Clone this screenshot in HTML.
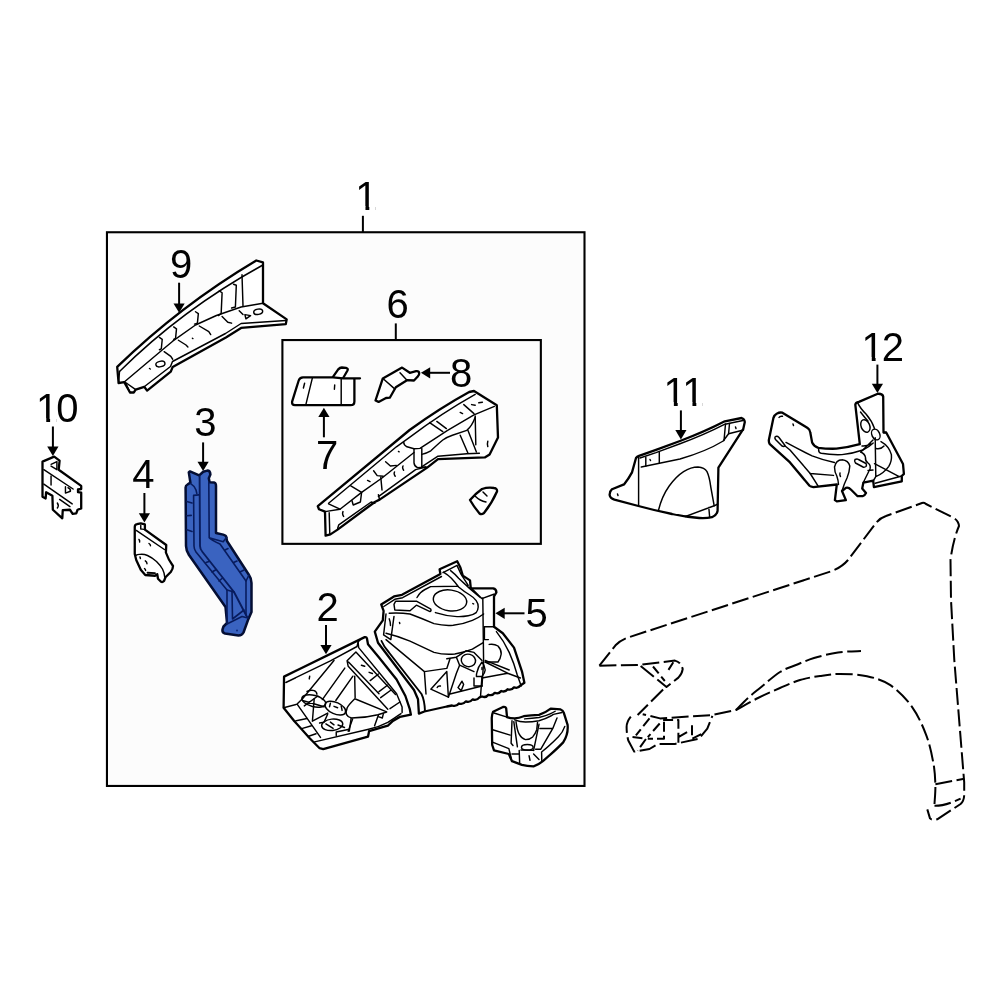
<!DOCTYPE html>
<html lang="en">
<head>
<meta charset="utf-8">
<title>Parts diagram</title>
<style>
html,body{margin:0;padding:0;background:#fff;}
body{width:1000px;height:1000px;overflow:hidden;}
svg{display:block;}
svg text{font-family:"Liberation Sans",sans-serif;font-size:40px;fill:#000;}
.o{fill:#fff;stroke:#000;stroke-width:2.3;stroke-linejoin:round;stroke-linecap:round;}
.n{fill:none;stroke:#000;stroke-width:2.3;stroke-linejoin:round;stroke-linecap:round;}
.i{fill:none;stroke:#000;stroke-width:1.45;stroke-linejoin:round;stroke-linecap:round;}
.b{fill:none;stroke:#000;stroke-width:2.1;}
.a{fill:none;stroke:#000;stroke-width:2;}
.h{fill:#000;stroke:none;}
.d{fill:none;stroke:#000;stroke-width:2;stroke-dasharray:17 4.5;stroke-linejoin:round;}
.bo{fill:#3a63c0;stroke:#040e33;stroke-width:2.5;stroke-linejoin:round;stroke-linecap:round;}
.bi{fill:none;stroke:#081c5e;stroke-width:1.6;stroke-linejoin:round;stroke-linecap:round;}
</style>
</head>
<body>
<svg width="1000" height="1000" viewBox="0 0 1000 1000">
<rect x="0" y="0" width="1000" height="1000" fill="#fff"/>

<!-- BOXES -->
<g id="boxes">
<rect class="b" x="106.95" y="232.25" width="477.55" height="553.7" style="fill:#fcfcfc"/>
<rect class="b" x="282.4" y="340.05" width="258.45" height="203.8"/>
<line class="a" x1="362.9" y1="215.8" x2="362.9" y2="232"/>
<line class="a" x1="395.8" y1="323.4" x2="395.8" y2="340"/>
</g>

<!-- LABELS -->
<g id="labels" text-anchor="middle" style="opacity:0.999">
<defs><clipPath id="k1"><path clip-rule="evenodd" d="M0,0 H1000 V1000 H0 Z M357.21,206.30 H365.46 V211.50 H357.21 Z M369.31,206.30 H375.71 V211.50 H369.31 Z"/></clipPath><clipPath id="k10"><path clip-rule="evenodd" d="M0,0 H1000 V1000 H0 Z M38.01,418.30 H46.26 V423.50 H38.01 Z M50.11,418.30 H56.51 V423.50 H50.11 Z"/></clipPath><clipPath id="k11"><path clip-rule="evenodd" d="M0,0 H1000 V1000 H0 Z M665.61,402.30 H673.86 V407.50 H665.61 Z M677.71,402.30 H684.11 V407.50 H677.71 Z M684.21,402.30 H692.46 V407.50 H684.21 Z M696.31,402.30 H702.71 V407.50 H696.31 Z"/></clipPath><clipPath id="k12"><path clip-rule="evenodd" d="M0,0 H1000 V1000 H0 Z M863.51,357.30 H871.76 V362.50 H863.51 Z M875.61,357.30 H882.01 V362.50 H875.61 Z"/></clipPath></defs>
<text x="355.21" y="210" text-anchor="start" clip-path="url(#k1)">1</text>
<text x="327.650" y="621">2</text>
<text x="205.250" y="436">3</text>
<text x="143.400" y="488">4</text>
<text x="536.550" y="627">5</text>
<text x="397.700" y="318">6</text>
<text x="327" y="469">7</text>
<text x="461.200" y="387">8</text>
<text x="181" y="278">9</text>
<text x="36.01 56.23" y="422" text-anchor="start" clip-path="url(#k10)">10</text>
<text x="663.61 682.21" y="406" text-anchor="start" clip-path="url(#k11)">11</text>
<text x="861.51 881.63" y="361" text-anchor="start" clip-path="url(#k12)">12</text>
</g>

<!-- ARROWS -->
<g id="arrows">
<line class="a" x1="326.0" y1="625.1" x2="326.0" y2="646.0"/><polygon class="h" points="320.4,645.0 331.6,645.0 326.0,654.3"/>
<line class="a" x1="203.1" y1="442.4" x2="203.1" y2="462.7"/><polygon class="h" points="197.5,461.7 208.7,461.7 203.1,471.0"/>
<line class="a" x1="144.4" y1="493.0" x2="144.4" y2="514.3"/><polygon class="h" points="138.8,513.3 150.0,513.3 144.4,522.6"/>
<line class="a" x1="524.5" y1="613.3" x2="503.7" y2="613.3"/><polygon class="h" points="504.7,607.7 504.7,618.9 495.4,613.3"/>
<line class="a" x1="323.9" y1="437.3" x2="323.9" y2="416.1"/><polygon class="h" points="318.3,417.1 329.5,417.1 323.9,407.8"/>
<line class="a" x1="450.0" y1="372.8" x2="429.2" y2="372.8"/><polygon class="h" points="430.2,367.2 430.2,378.4 420.9,372.8"/>
<line class="a" x1="179.1" y1="282.7" x2="179.1" y2="304.4"/><polygon class="h" points="173.5,303.4 184.7,303.4 179.1,312.7"/>
<line class="a" x1="52.9" y1="426.5" x2="52.9" y2="447.6"/><polygon class="h" points="47.2,446.6 58.5,446.6 52.9,455.9"/>
<line class="a" x1="680.9" y1="410.4" x2="680.9" y2="431.1"/><polygon class="h" points="675.3,430.1 686.5,430.1 680.9,439.4"/>
<line class="a" x1="877.4" y1="364.6" x2="877.4" y2="384.8"/><polygon class="h" points="871.8,383.8 883.0,383.8 877.4,393.1"/>
</g>

<g id="part9">
<path class="o" d="M117.200,366.900 Q180.500,305.500 256.300,260.500 L263,262.400 L263,303.200 L286.700,319.400 L285.800,324.100 L241.100,327.900 L225.900,337.400 L172.700,366.900 L170.800,371.600 L147.100,390.600 L144.200,386.800 L135.700,389.700 L133.750,392.500 L130,392.500 L124.250,382.100 L118.600,383 Z"/>
<path class="i" d="M119.500,371.500 Q182,309.500 262,265.500"/>
<path class="i" d="M124.250,382 L161.300,350.700 L172.700,341.200 L195.500,325 L216.400,315.500 L241.100,307 L263,303.200"/>
<path class="i" d="M242,274.700 L243,306"/>
<path class="i" d="M233.500,284.200 L236.300,285.200 L235.400,307 L231.600,308"/>
<path class="i" d="M219.250,290.900 L222.100,292.750 L221.150,313.650 L218.300,315.550"/>
<path class="i" d="M195.500,311.750 L198.350,313.650 L197.400,323.150 L194.550,324.100"/>
<path class="i" d="M173.650,326.950 L176.500,328.850 L175.550,338.350 L173.650,339.300"/>
<path class="i" d="M159.400,337.400 L162.250,339.300 L161.300,348.800 L159.400,349.750"/>
<path class="i" d="M144.200,386.800 L170.500,366.500 L172.500,361.500 L225.500,333.500 L241.100,323.500 L286,320.500"/>
<path class="i" d="M239.200,310.800 L243,314.600 M222.100,316.500 L227.800,322.200 L231.600,323.150 M199.300,326 L208.800,331.700 L210.700,334.550 M178.400,340.250 L186,345 L187.900,346.900 M164.150,351.650 L170.800,356.400 L172.700,359.250"/>
<ellipse class="i" cx="160.400" cy="364" rx="4.600" ry="2.700" transform="rotate(-12 160.400 364)"/>
<ellipse class="i" cx="258.200" cy="311.750" rx="4.500" ry="2.700" transform="rotate(-10 258.200 311.750)"/>
<path class="i" d="M244.900,314.600 L250.600,315.600 L245.900,318.800 Z"/>
<path class="i" d="M149.500,368.500 L150.300,369 M192.400,338.200 L192.900,338.600"/>
<path class="i" d="M118.600,383 L119.500,371.500 M124.250,382.100 L127,383.500 L135.700,389.700 M130,392.500 L126.500,385"/>
</g>
<g id="part7">
<path class="o" d="M333,376.800 L338.200,369.400 Q340,367.500 341.800,367.500 L346,367.800 Q348.500,368.500 347.500,370.500 L343,378.300"/>
<path class="o" d="M360,378.300 L343,378.300 L333,377.300 L303,377.300 Q299.700,377.500 298.700,380.500 L292.200,401.300 Q291.500,405.200 295,405.200 L350.500,405.200 Q354.400,405.200 354.400,401.500 L354.400,379"/>
<path class="i" d="M341.200,378.500 L341.200,404.800 M312.400,377.800 L305.800,404.800 M304.600,383.200 L303.400,388 M334.700,385 L334.400,389.200"/>
</g>
<g id="part8">
<path class="o" d="M382.800,378.400 L402.100,367.600 L409.800,372.800 L416.100,371.200 Q418.800,370.800 419.200,373 Q419.400,375 417.500,376.800 L414,380.500 L407,380.200 L395.800,387.200 L389.800,397.700 L386,398 L378.600,401.900 L375.500,400.500 Z"/>
<path class="i" d="M383.200,378.800 L394.400,388.600 M400,372.800 L406.300,379.500"/>
</g>
<g id="rail6">
<path class="o" d="M317.800,506.200 L409.600,430 Q440,408 469.200,392 L474,391 L496.800,405.200 L498,437.600 L489.600,454.400 L484.800,457.400 L438,459.200 L427.200,467.600 L379.600,499.600 L374.800,502 L337.600,529.600 L330.400,534.400 L325.600,535.600 L325,511.600 L319,509.200 Z"/>
<path class="i" d="M328.600,503.200 L396.400,446.800 L409.200,437.600 Q442,413 475.200,394.400"/>
<path class="i" d="M328.600,503.800 L340,509.200 L325,511.600 M329.200,512.800 L329.800,534.400"/>
<path class="i" d="M340,509.200 L361.600,492.400 L382,478 L414,452.500"/>
<path class="i" d="M350.800,485.800 L361.600,492.400 L360.400,502 L353.200,505 L352,500.800"/>
<path class="i" d="M337.600,528.400 L338.800,524.800 L371.200,502 L374.800,503.200 M378.400,494.800 L379.600,499.600 M378.400,496.600 L415.600,469.600 L426,467"/>
<path class="i" d="M373.600,470.800 L377.200,475.600 L383.200,476.200 M380.800,477.400 L382,490 M385.600,461.800 L390.400,466 L396.400,465.400"/>
<path class="i" d="M367.600,480.400 L370,481.600 M398.500,451.400 L399.100,451.800 M394.500,472 Q393.500,474 395.200,476.200 M403,466 Q402,468 403.600,470.200 M343,511.600 Q342,514 343.600,516.400"/>
<path class="i" d="M403.800,442.400 Q403.500,445 407,446.800 L414,448.800 L420,448.400 L447.600,430.400 L474,414.800 L494.400,406.400"/>
<path class="i" d="M414,449 L414,462.800 Q414.500,466.500 417.600,467.600 L426,467 M421.800,448.400 L421.800,467"/>
<path class="i" d="M429.600,422.600 L442.800,431.600 M436.800,421.400 L446.400,428.600"/>
<path class="i" d="M463.800,404.600 L474,413.600 M460.200,412.400 L462.600,413.600 M471.600,404.600 L475.200,405.200 M478.800,402.800 L482.400,402.200"/>
<path class="i" d="M421.800,454.400 Q426,453.500 430.800,450.800 Q438,444 442.800,440 Q447,437 452.400,435.200 L466.800,430.400 Q472,426 475.200,417.200"/>
<path class="i" d="M422.400,466.400 L438,456.200 L466.800,453.800 L479.400,453.200"/>
<path class="i" d="M475.200,416 L475.800,444.800 M468,430.400 L476.400,452 M460.200,435.200 L468,453.200"/>
<path class="i" d="M487.800,441.200 Q487,444 487.800,446.600"/>
</g>
<g id="bump6">
<path class="o" d="M470,500 Q475,494 482,489 Q488,487 494,488 Q497.5,488.5 497,491.500 Q492,503 484,513 Q481.500,515 479.500,513.500 Q474,507 470,500 Z"/>
<path class="i" d="M475,496 Q480,501 486,502 M483,492 L487,496"/>
</g>
<g id="part3">
<path class="bo" d="M188.800,472.200 L190,471.400 L199.200,475.400 L203.200,471.800 L207.200,470.600 Q210.300,470.600 210.400,474.600 L208.800,478.200 L209.600,482.200 L214.400,482.600 Q216,483 216,486 L216,533 L223.200,534.600 Q226.400,535.500 226.400,537.500 L227,541 L249,575 Q251.500,578.500 251.500,583 L251.500,612 L248,620 L243.500,632.500 Q242,635.500 238.500,635.500 L225,633.500 Q222,632.500 222.500,629.500 L223.500,626.500 L227,623 L225.500,607 L189,555 Q186,550 186,546 L185.600,487.500 Q185.600,485.500 187.500,484.500 L190.400,482.600 Z"/>
<path class="bi" style="stroke-width:1.9" d="M199.600,476.200 L200,546 Q200,549 202.500,552 L234,592 L246,615"/>
<path class="bi" d="M198.800,494.900 L193.600,495.400 L194,546 Q194,549 196,552 L227,590 L234,592"/>
<path class="bi" d="M190.400,483.400 Q194.500,486 196,490 L196.800,493.400"/>
<path class="bi" d="M208.800,482.600 L209.200,537.800 L223.200,541.800 L226.400,537.500 M209.200,537.800 Q211,540 220,544 L246,581 L249,575"/>
<path class="bi" d="M246,581 L246,615 L248,618 M227,590 L227,624 L242,616.500 L248,618 M232,591 L232.500,619 L244,610"/>
<path class="bi" d="M186.800,501.400 L192,503 M186.800,515.800 L191.200,515.400 M186.800,529.800 L192,531.400"/>
<path class="bi" d="M206,562.500 L209,561.500 M212,572 L215.500,570 M219,581 L222,578.500 M225,550 L228,548.500 M233.500,562.500 L237,561 M240,572 L244,570"/>
<circle cx="237" cy="630.500" r="0.900" fill="#0a2270"/>
</g>
<g id="part4">
<path class="o" d="M134.750,527 Q134.750,524.500 137,524.200 L140.750,523.300 L144.900,524.400 L144.900,529.600 L166.250,545 L165.900,552.500 Q168,559 173,566 Q173,569 170.750,572 L165.500,577.250 L164,581 Q162.500,582.500 161,581.750 L158,578.750 L157.250,574.250 L155,575.750 L145.250,575 L140.750,569.750 L136.250,560 L134.750,554 Z"/>
<path class="i" d="M140.750,525.500 L140.750,528.900 M136.250,530.400 L164.400,549.500 M140.750,528.900 L144.900,529.600"/>
<path class="i" d="M135.500,555.500 Q138,554.200 140,554.400 Q144,554 147.500,555.500 Q152,557.500 156.500,561.500 Q160.500,565.500 162.500,569 Q164.500,573 164.750,577.250"/>
<path class="i" d="M139,539.400 Q140,540.500 139.600,542 M149,543.500 Q150.500,544.500 150.500,545.800 M140,557 L140.400,558.500 M145.300,560.800 Q147,562 147,563.800 M144.500,568.600 Q145.600,569.200 145.600,570.500"/>
<path class="i" style="stroke-width:1.8" d="M147.500,572.750 L155,573.100"/>
</g>
<g id="part10">
<path class="o" d="M42.500,461.600 L54.200,456.650 L59.600,460.700 L58.700,469.700 L81.200,485.900 L81.200,489 L78,489.500 L78,492.200 L81.200,492.650 L81.200,508.400 L77.600,509.750 L76.250,513.350 L72.650,513.800 L69.950,509.750 L62.750,510.200 L62.300,518.300 L52.850,509.750 L52.400,495.800 L46.100,492.200 L45.650,498.500 L42.500,496.700 Z"/>
<path class="i" d="M43.850,469.700 L73.100,489 M43.850,484.100 L72.200,503.900 M59.600,499.400 L69.950,506.600"/>
<path class="i" d="M51.050,464.300 L56.900,461.600 L56.900,469.700 L51.050,466.100 M51.050,476 L51.050,485"/>
<path class="i" d="M65.450,486.800 L65.450,493.100 L70.400,491.300 Q70.800,488.500 68,487.700 M57.350,503 Q59.200,505.700 57.350,508"/>
</g>
<g id="part2">
<path class="o" d="M284.050,676.650 L364.700,637.150 Q366.500,636.800 366.900,638.250 L368,644.300 L379,657.500 L396.600,679.500 L405.400,696 L409.800,709.200 L410.900,714.700 L399.900,716.900 Q393,720 387.800,725.700 L369.100,731.200 L368,736.700 L323.200,749.100 L319.600,748.200 L309.700,738.300 L294.400,721.200 L283.600,707.700 Z"/>
<path class="i" d="M285.850,682.500 L330.400,660.900 L357,646.500 L358.100,642.100 L360,639.800"/>
<path class="i" d="M358.100,642.100 L358.650,647.600 L396.600,693.800 L402.100,707 L402.100,712.500"/>
<path class="i" d="M309.700,676.200 L309.250,678.900"/>
<path class="i" d="M283.600,707.700 L297.100,704.100 L320.500,737.400 M297.100,704.100 L302.500,698.700 L334,660.500"/>
<path class="i" d="M344.800,668.100 L322.300,699.600 M352.900,676.200 L335.800,700.500"/>
<path class="i" d="M294.400,721.200 L307,718.500 M302.500,728.400 L311.500,725.700 M307.900,736.500 L316,733.800"/>
<path class="i" d="M314.650,741.900 L368.650,729.300 Q378,727.500 387.800,722.400 Q396,717 401,713.600"/>
<path class="i" d="M347.100,660.800 L355.900,652 L395.500,694.400 M347.100,660.800 L348.200,666.300 L387.800,709.200 M348.500,662 L379,693.800 M370.200,680.600 L378.450,674 M379,691.600 L387.800,685 M380.650,697.650 L391.100,690"/>
<path class="i" d="M361.400,665.200 L364.700,666.300 M369.100,672.350 L372.400,673.450"/>
<path class="i" d="M399.900,702 L390,708.700"/>
<path class="i" d="M354.700,676.200 L355.150,697.800 M354.800,698.750 Q347.500,706 347.100,708.100 Q345.500,712 346.550,714.700 Q348,717.500 351.500,718 Q365,718 377.900,714.700 L386.700,711.950 L354.800,698.750"/>
<path class="i" d="M378.400,715 L374.600,725.700 M379,716.900 L382.300,718 L383.400,713.600 M352.600,719.100 L348.200,731.200"/>
<ellipse class="i" cx="313.750" cy="701" rx="12.200" ry="5.600" transform="rotate(14 313.750 701)"/>
<path class="i" d="M302.500,700.500 L324.100,706.800 M304.300,705.900 L317.800,696 M307,691.500 Q311,689.500 314.200,690.600 Q317,692 316.900,694.200"/>
<path class="i" d="M314.200,698.700 L312.400,721.200 L327.700,713.100"/>
<ellipse class="i" cx="335.350" cy="708.150" rx="11" ry="5.800" transform="rotate(24 335.350 708.150)"/>
<path class="i" d="M330.400,703.200 L329.500,706.800 M334,706.350 L337.600,707.700 M341.200,705.900 L342.100,710.400"/>
<ellipse class="i" cx="332.200" cy="724.800" rx="10.600" ry="5.700" transform="rotate(-6 332.200 724.800)"/>
<path class="i" d="M325.900,723.900 L333.100,728.400 M330.400,722.100 L334,724.800 M319.600,723 L324.100,722.100 L327.700,714"/>
<path class="i" d="M351.100,718.500 L349.300,731.100 M336.250,732 L336.250,735.600 M336.250,732 L349.300,729.300 M344.500,727.500 L338,725"/>
</g>
<g id="part5">
<path class="o" d="M381.200,604.400 L394,596.400 L402,594.800 L440.400,574 L439.600,569.200 L457.200,561.200 L460.400,567.600 L462.800,575.600 L470,580.400 L470.800,588.400 L493.200,588.400 Q496.400,589 496.400,592.400 L494,596.400 L494,626.800 L502.800,633.200 L514,647.600 L522,671.600 L524.400,682.800 L520.400,685.500 Q517.9,688.9 514.0,687.3 Q511.5,690.7 507.6,689.2 Q505.1,692.6 501.2,691.0 Q498.7,694.4 494.8,692.8 Q492.3,696.2 488.4,694.7 Q485.9,698.1 482.0,696.5 L479.500,697.400 Q476.8,700.9 472.6,699.4 Q469.9,702.9 465.8,701.4 Q463.0,705.0 458.9,703.5 Q456.2,707.0 452.0,705.5 L446.800,706.500 L424.400,711.500 L418.900,713.600 L418,699.200 L414,690 L378,642.800 L374.800,631.600 L382.800,620.400 L383.600,610.800 Z"/>
<path class="i" d="M383.800,606.500 L394.800,599.300 L402.600,597.700 L441.500,576.500 M482,676.400 L480.500,696.500"/>
<ellipse class="i" cx="450" cy="600.400" rx="16.800" ry="10.400" transform="rotate(8 450 600.400)"/>
<path class="i" d="M443.400,572.200 Q448,575 451.400,578.200 Q455,582 458.600,587 Q464,591.500 469.800,595 Q474,597.500 476.200,600.600 Q478.500,604 478.200,607 Q478,610.500 476.200,612.600 Q473,615 468.200,615.800 Q463,616.800 457,616.600 Q446,616 435.400,612.600 M417,597.500 Q420,592 425,589.500 L430.600,586.600 L457,586.200"/>
<path class="i" d="M394,604.400 L395.600,601.200 L416.400,601.200 L430.800,609.200 Q431.500,611 430,611.600 L416.400,605.200 L410,610.800 L394.800,610 Z"/>
<path class="i" d="M389.200,613.200 Q400,612.500 410,614 Q422,618.500 434,623.600 Q444,626 453.200,625.200 Q464,624 472.400,620.400 Q479,617.500 483.600,614"/>
<path class="i" d="M482.800,598 L483.600,662 L482,686"/>
<path class="i" d="M386,633.200 Q398,636 410,641.200 L434,652.400 Q444,655 454.800,654 Q464,652.500 472.400,649.200 L482.800,642.800"/>
<path class="i" d="M386,614 L383.600,634.800 L390.800,639.600 L394,616.400 M389.200,618.800 Q390.500,622 390.500,625.500 M399.500,622.500 L399.800,623.500"/>
<path class="i" d="M443,572.600 L457,565.400 L461,574.200 L468.200,585.400 M450.600,570.600 Q455,574 458.600,578.200 L469.800,588.600 L480.200,597.400 M470.200,587 L481.800,598.600 L493.800,594.200 M484.400,626.800 L494,626.800 M472.800,603.600 L473.600,603.900"/>
<path class="i" d="M446.800,658.800 L456.400,657.200 L466,650.800 L474,652.400 L482,660.400"/>
<ellipse class="i" cx="468.400" cy="660.400" rx="7.200" ry="6.200" transform="rotate(15 468.400 660.400)"/>
<path class="i" d="M456.400,657.200 L459.600,665.200 L474,671.600"/>
<path class="i" d="M386,639.600 L424.400,671.600 L446.800,668.400 L450,658.800 M424.400,671.600 L426,694"/>
<path class="i" d="M430.800,689.200 L446.800,671.600 L448.400,697.200 Z M437.200,687.600 Q438,685.500 440.400,686"/>
<path class="i" d="M448.400,697.200 L456.400,673.200 L459.600,665.200 M450,694 L482,686"/>
<path class="i" d="M458,687.600 L462,681.200 L463.600,684.400 L461.200,690.800 Z"/>
<path class="i" d="M482,662 Q478,667 477.200,671.600 Q476,675 476.400,676.400 L482,676.400 Q485,673 485.200,670 Q484.500,665 482,662 Z M482,667.500 L482,669.500"/>
<path class="i" d="M474,678 L474,686 L482,686"/>
<path class="i" d="M484.400,626.800 L484.400,639.600 L488.400,639.600"/>
<path class="i" d="M496.400,631.600 Q504,641 509.200,652.400 Q514,663 517.200,674.800 L521.200,686"/>
<path class="i" d="M489.200,644.400 Q494,643.500 498,646 Q501.500,650 501.200,654 Q500.500,659 498,662 L485.200,662"/>
<path class="i" d="M485.200,662 L507.600,673.200 L482,678 M507.600,673.200 L520.400,678 M485.200,660.400 L509.200,670"/>
<path class="n" style="stroke-width:1.9" d="M381.500,641 Q384,647 389,652.500 L421.500,694 Q424.500,700 425,711"/>
</g>
<g id="part5b">
<path class="o" d="M493.100,711.700 L503,707 Q505.500,706.500 506.150,708.100 L507.050,717.100 Q510,718.300 514.700,718.450 Q519,718 523.700,716.200 Q531,715 539,714.850 Q545,713 550.700,708.550 L560.600,709.450 Q563,710.500 563.750,712.600 L567.600,724.800 Q568.500,734 563.200,742.400 Q556,750 543.200,760.800 Q538,765 533.600,766.300 Q527,766 521.900,764.800 L512,761.200 L508.850,754 L494,750.400 L492.200,745 L491.750,718 Q492,714 493.100,711.700 Z"/>
<path class="i" d="M494,713 L507.050,717.100 M492.650,729.700 L510.200,735.100 M493.100,742.300 L508.850,748.600 L511.100,757.600"/>
<path class="i" d="M512,720.700 L511.100,743.200 L513,745.500"/>
<path class="i" d="M514.700,719.800 Q520,722 525.500,722 Q532,722 539,720.700 Q547,718.500 553.400,714.400 L562,712.500"/>
<path class="i" d="M524.600,718.900 Q532,718.500 539,717.500 Q548,715.500 555.200,711.250"/>
<path class="i" d="M516,721.600 Q517,730 519.200,734.200 Q521.500,738.500 525.500,739.600 Q530,739.500 532.700,736.900 Q535.500,733.500 536.750,729.700 L537.500,722.500"/>
<path class="i" d="M513.800,721.600 L517.400,746.800 M539,724.300 L533.600,750.400"/>
<ellipse class="i" cx="527.300" cy="747.250" rx="5.850" ry="2.800"/>
<path class="i" d="M539.900,728.400 L552.800,728.400 L540.800,749.200 L535.600,749.200 M557,718 L552.800,728.400 M521,750 L533.600,750.400 M564.800,726.400 Q563,732 558.400,736.800 Q551,744.500 541.600,752 L541.800,761"/>
<path class="i" d="M512,754 L519.200,754 M519.200,750.400 L519.650,763 M529.100,755.800 L530,760.300 M533.600,754 L539,759.400 "/>
</g>
<g id="part11">
<path class="o" d="M609.600,494.800 Q609.800,491 612,489.200 L624,484.400 Q628.500,479 632,472.400 L636,458 Q637,456.500 639,455.800 L656,449.800 L680,441 Q704,432 724.800,421.300 L741.600,418 Q744.500,419 744.800,422 L743.200,429.200 L718.400,467.600 L717.600,510.800 Q717,515 712,517.200 Q706,518.500 699.200,518 Q685,517 672,514 Q655,510.500 638.400,506 L614.400,499.600 Q610,498 609.600,494.800 Z"/>
<path class="i" d="M640,458 L656,452.600 L680,443.800 Q704,435 725,424.200 L743,420.500"/>
<path class="i" d="M638.600,457.500 L638.600,506"/>
<path class="i" d="M641.300,467 L680,459 Q706,451.500 723.200,441 L728.600,433.800 L743.500,430"/>
<path class="i" d="M645.800,457.200 L645.800,466.200 M659.300,452 L659.300,463.200"/>
<path class="i" d="M725.500,424 L724,440.500 M729.500,423.500 L728.600,433.800"/>
<path class="i" d="M658.400,510.500 Q662,496 669.200,486 Q676,476.500 683.600,471.600 Q691,467 698,467 Q704.500,467.500 707,471.600 Q709.500,477 710.600,486 L714.200,505.800"/>
<path class="i" d="M685.400,516.500 L714.200,505.800 L717.800,504 M708.800,507.500 L709.700,517.500"/>
<path class="i" d="M650,459.500 L650.500,460.500 M735.500,427 L736,428.500 M617.500,494 L618,495.500"/>
</g>
<g id="part12">
<path class="o" d="M777,413.600 Q779.500,412 782.400,412.700 L807.600,428 Q810,429.500 810.300,432.500 L812.100,442.400 Q814,446.500 818.400,447.800 Q827,449 836.400,448.700 Q848,447.500 859.800,444.200 L855.300,404.600 Q855.500,402.500 858.900,401.900 L877.800,393.800 Q882.500,393.500 883.200,396.500 L883.500,432.500 L886.200,432.500 L903,464 L903.900,473.900 L901.800,476 L901.800,481.300 L873.900,487.100 L873.200,480.600 L863.400,482.600 L862.200,488.400 L866,493 Q864.500,496 862.800,496.200 L857.600,496.200 L851.100,489.700 Q848.500,487 845.900,487.800 L842,491 L845.900,500.100 L836.800,501.400 L834.900,500.100 L836.800,484.500 L813.400,487.100 Q810.500,486.800 809.500,485.800 L790,462.400 L769.800,444.200 Q768.500,442 768.900,439.700 L773.400,418 Q774.500,415 777,413.600 Z"/>
<path class="i" d="M779,417.500 Q780,415.800 782.500,416.300 M793,424 L793.500,425.500"/>
<path class="i" d="M775,437 Q777,435.500 779,437.500 L785,445.500 Q784,447 782,446 L775.500,439.500 Q774.500,438 775,437 Z"/>
<path class="i" d="M786,442.400 Q800,450 812.100,455.900 Q824,460.500 834.500,462.500 M785.100,446 L790,450 L810.200,473.500 L833.500,475.400"/>
<path class="i" d="M810.200,473.500 L818,485.800"/>
<path class="i" d="M818.600,449.400 Q818.500,452.500 821.200,453.300 Q831,455 842,454.600 Q853,453.500 862.800,450 Q869,447 873.200,442.900"/>
<path class="i" d="M857.600,402.600 Q860,408 866,414 Q872,421 874.500,428.500 M860.500,412 Q865,418 868,421"/>
<ellipse class="i" cx="865.400" cy="426" rx="4.300" ry="6.600" transform="rotate(-22 865.400 426)"/>
<ellipse class="i" cx="875.800" cy="434.500" rx="3.900" ry="5.600" transform="rotate(-25 875.800 434.500)"/>
<path class="i" d="M875.200,437.700 L875.800,476.700 M881,441.600 Q889,446 891.400,454.600 Q892,461 888.800,466.300 Q884,473 875.800,476.700 L873.500,480.500"/>
<path class="i" d="M874.500,463.700 L899.200,476.700 M875.200,483.200 L901.800,476 M883.600,432.500 L886.200,432.500 M876,448.500 Q881,449.500 884,446"/>
<path class="i" d="M842,459.800 Q836,460 834.500,467 Q834.500,472 836.800,476 Q838.500,481 838.500,484.500 M842,459.800 Q848.500,460.500 849.800,466 Q849.500,472 847,478 Q844,484 842,491"/>
<path class="i" d="M840,473 Q839.500,475 840.500,476.500"/>
<path class="i" d="M855,459.500 Q857,458.500 858.500,459.500 L866,463.500 Q867,465 866,466.500 Q864.500,467.500 863,467 L855.500,463 Q854,461 855,459.500 Z"/>
<path class="i" d="M860.800,452 Q865,454 865.500,457.500 Q865,461 868,463 Q871,465 870,469 Q867.500,474 866,477 Q864.500,480 863.400,482.600 M868,470.500 L873,470"/>
<path class="i" d="M862,446 Q866,446.500 871,444 M873,440 L860.800,452"/>
</g>
<g id="fender">
<path class="d" d="M599.400,665.700 L615.500,645.300 Q620,640.500 627.400,637.700 L780,588 L832,571 Q842,567 848,560 L876,523 Q880,518 886,516 L922,503 Q924,502.300 926,504 L952,517 Q958.500,520 959,526 Q953,540 950.500,560 L951,600 L954.300,660 L964.200,782.400 L964.200,795 Q964,801 960.600,804 L937.200,819.300 Q932,820.500 930,818.400 L927.300,809.400"/>
<path class="d" d="M934.5,804.0 C934.6,801.0 935.5,792.6 935.4,786.0 C935.2,779.4 935.1,772.8 933.6,764.4 C932.1,756.0 930.0,745.2 926.4,735.6 C922.8,726.0 918.0,715.2 912.0,706.8 C906.0,698.4 897.9,690.3 890.4,685.2 C882.9,680.1 875.4,678.1 867.0,676.2 C858.6,674.3 847.8,674.0 840.0,674.0 C832.2,674.0 826.7,675.0 820.0,676.0 C813.3,677.0 806.7,678.0 800.0,680.0 C793.3,682.0 787.0,685.0 780.0,688.0 C773.0,691.0 765.3,694.3 758.0,698.0 C750.7,701.7 739.7,708.0 736.0,710.0 L712,715 L660,718.400 L642.700,714.200"/>
<path class="d" d="M736.0,710.0 C738.0,708.0 744.0,701.7 748.0,698.0 C752.0,694.3 754.7,692.3 760.0,688.0 C765.3,683.7 774.0,675.8 780.0,672.0 C786.0,668.2 790.3,667.3 796.0,665.0 C801.7,662.7 807.0,660.1 814.0,658.0 C821.0,655.9 830.2,653.7 838.0,652.5 C845.8,651.3 857.2,651.2 861.0,651.0"/>
<path class="d" d="M599.400,665.700 L639.300,664.900 L675,660.600 Q681,662 682.700,669.100 Q682,674 678.400,677.600 L666.500,687 L639.300,664.900"/>
<path class="d" style="stroke-dasharray:9 4" d="M653,666.500 L664.800,681 M673.300,662.300 L667.400,671.600"/>
<path class="d" d="M663.100,689.500 L637.600,715"/>
<path class="d" d="M630.800,716.700 Q626.600,722 626.600,726.900 Q626.600,734 628.300,740.500 L634.200,751.600 L649.500,749 L658,743.900 L675,743.900 L698.800,738.800 L707.300,728.600 L712.400,715.900"/>
<path class="d" style="stroke-dasharray:10 4" d="M649.500,718.400 L635.900,735.400 M659.700,723.500 L647.800,737.100 M632.500,737.100 L646.100,738.800 L637.600,750.700 M663.100,720.100 L678.400,720.100 L678.400,743.900 M664,721.800 L664,738.800 L647.800,738.800 M692,725.200 L692,738.800 L702.200,733.700 M678.400,737.100 L690.300,730.300"/>
<path class="d" d="M935.400,784.200 L964.200,778.800 M934.500,805.800 Q945,806 960.600,798.600"/>
</g>
</svg>
</body>
</html>
